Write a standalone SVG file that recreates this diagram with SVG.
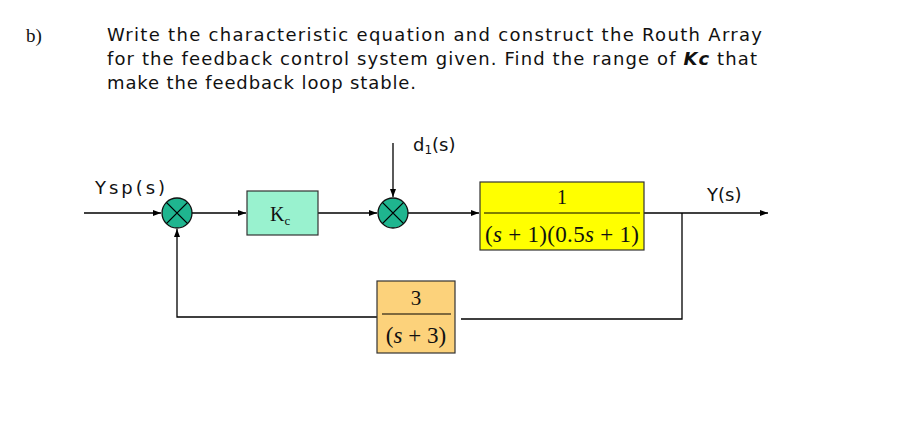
<svg xmlns="http://www.w3.org/2000/svg" width="915" height="421" viewBox="0 0 915 421">
<style>
.t{font-family:"DejaVu Sans",sans-serif;font-size:18px;fill:#111}
.m{font-family:"Liberation Serif",serif;font-size:23px;fill:#111}
.l{stroke:#000;stroke-width:1.3;fill:none}
.sum{fill:#1fb58f;stroke:#111;stroke-width:1.3}
</style>
<defs><marker id="a" markerWidth="8" markerHeight="8" refX="8" refY="4" orient="auto" markerUnits="userSpaceOnUse"><path d="M0,1 L8,4 L0,7z" fill="#000"/></marker></defs>
<rect width="915" height="421" fill="#fff"/>
<text x="26" y="42" class="m" style="font-size:19px">b)</text>
<text x="107" y="41" class="t" textLength="655" lengthAdjust="spacing">Write the characteristic equation and construct the Routh Array</text>
<text x="107" y="65" class="t" textLength="650" lengthAdjust="spacing">for the feedback control system given. Find the range of <tspan font-weight="bold" font-style="italic">Kc</tspan> that</text>
<text x="107" y="89" class="t" textLength="309" lengthAdjust="spacing">make the feedback loop stable.</text>
<g id="connectors">
<path class="l" d="M84,213 H161" marker-end="url(#a)"/>
<path class="l" d="M192,213 H246" marker-end="url(#a)"/>
<path class="l" d="M318,213 H377" marker-end="url(#a)"/>
<path class="l" d="M393,143 V197" marker-end="url(#a)"/>
<path class="l" d="M408,213 H479" marker-end="url(#a)"/>
<path class="l" d="M644,213 H768" marker-end="url(#a)"/>
<path class="l" d="M682,213 V319 H461"/>
<path class="l" d="M377,317 H177 V229" marker-end="url(#a)"/>
</g>
<g id="sum1"><circle class="sum" cx="177" cy="213" r="15"/><path class="l" d="M166.4,202.4 L187.6,223.6 M187.6,202.4 L166.4,223.6"/></g>
<g id="sum2"><circle class="sum" cx="393" cy="213" r="15"/><path class="l" d="M382.4,202.4 L403.6,223.6 M403.6,202.4 L382.4,223.6"/></g>
<g id="kc"><rect x="247" y="191" width="71" height="44" fill="#99f2cf" stroke="#333" stroke-width="1.2"/><text x="270" y="221" class="m" style="font-size:20px">K<tspan font-size="13" dy="4">c</tspan></text></g>
<g id="plant"><rect x="480" y="182" width="164" height="68" fill="#ffff00" stroke="#333" stroke-width="1.2"/>
<text x="562" y="204" class="m" text-anchor="middle" style="font-size:20px">1</text><line x1="484" y1="213" x2="640" y2="213" stroke="#000" stroke-width="1"/>
<text x="562" y="242" class="m" text-anchor="middle" textLength="154" lengthAdjust="spacing">(<tspan font-style="italic">s</tspan> + 1)(0.5<tspan font-style="italic">s</tspan> + 1)</text></g>
<g id="fb"><rect x="377" y="281" width="78" height="72" fill="#fcd27b" stroke="#333" stroke-width="1.2"/>
<text x="416" y="305" class="m" text-anchor="middle" style="font-size:21px">3</text><line x1="382" y1="314" x2="451" y2="314" stroke="#000" stroke-width="1"/>
<text x="416" y="343" class="m" text-anchor="middle">(<tspan font-style="italic">s</tspan> + 3)</text></g>
<text x="95" y="194" class="t" textLength="70" lengthAdjust="spacing">Ysp(s)</text>
<text x="413" y="151" class="t">d<tspan font-size="12" dy="3">1</tspan><tspan dy="-3">(s)</tspan></text>
<text x="707" y="201" class="t">Y(s)</text>
</svg>
